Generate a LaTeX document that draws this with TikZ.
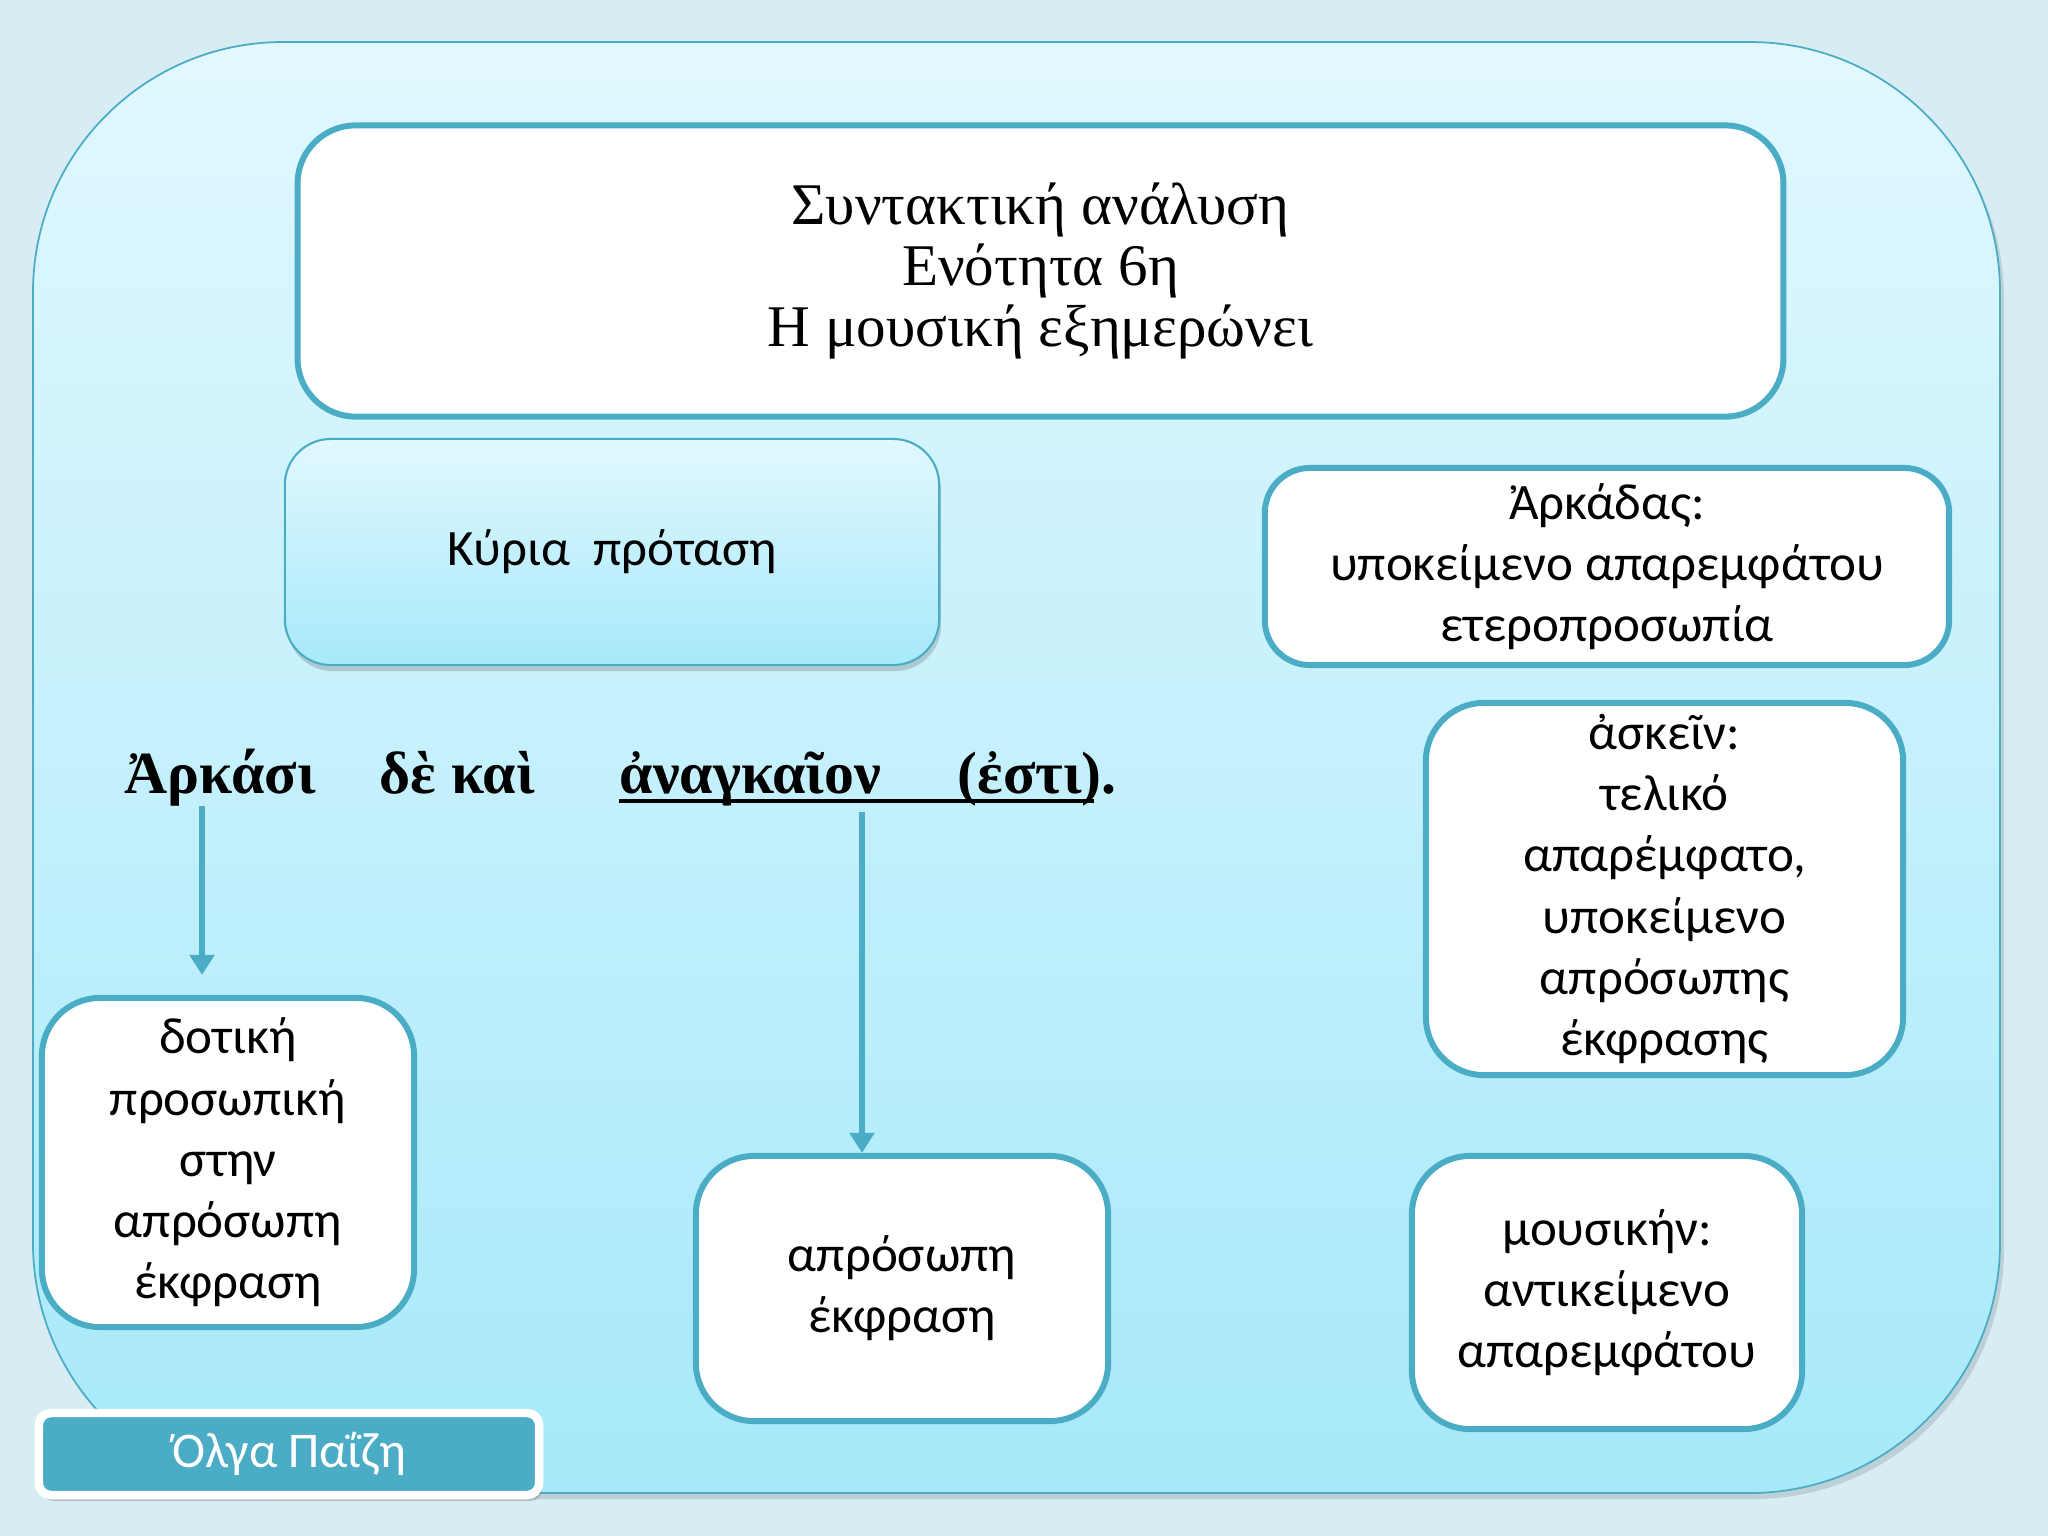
\documentclass[tikz,border=0pt]{standalone}
\usepackage{fontspec}
\setmainfont{Liberation Serif}
\newfontfamily\grsans{Carlito}
\usetikzlibrary{shadows,arrows.meta}

\definecolor{aqua}{HTML}{4BACC6}
\definecolor{slidebg}{HTML}{D8EDF3}
\definecolor{paneltop}{HTML}{E1F8FE}
\definecolor{panelbot}{HTML}{A7E9FA}

\tikzset{
  whitebox/.style={draw=aqua, line width=1.7pt, fill=white, rounded corners=0.58cm,
    align=center, inner sep=0pt, font=\grsans\fontsize{14.5}{17.4}\selectfont},
  mainbox/.style={draw=aqua, line width=0.6pt, top color=paneltop, bottom color=panelbot,
    rounded corners=0.46cm, align=center, inner sep=0pt,
    drop shadow={shadow xshift=0.02cm, shadow yshift=-0.06cm, opacity=0.35},
    font=\grsans\fontsize{14.5}{17.4}\selectfont},
  greekword/.style={anchor=base west, inner sep=0pt, font=\bfseries\fontsize{17}{20}\selectfont},
  arr/.style={draw=aqua, line width=1.5pt, -{Triangle[length=0.2cm,width=0.24cm]}}
}

\begin{document}
\begin{tikzpicture}[x=0.01cm, y=-0.01cm]
\useasboundingbox (0,0) rectangle (2048,1536);
\fill[slidebg] (0,0) rectangle (2048,1536);

% panel
\fill[black, opacity=0.12, rounded corners=2.5cm] (37,48) rectangle (2004,1499);
\shade[top color=paneltop, bottom color=panelbot, draw=aqua, line width=0.5pt,
  rounded corners=2.5cm] (33,42) rectangle (2000,1493);

% boxes
\node[whitebox, minimum width=14.85cm, minimum height=2.91cm,
  font=\fontsize{16.8}{17.4}\selectfont] (title) at (1040.5,271)
  {Συντακτική ανάλυση\\Ενότητα 6η\\Η μουσική εξημερώνει};

\node[mainbox, minimum width=6.54cm, minimum height=2.26cm] (kyria) at (612,552)
  {Κύρια\ \ πρόταση};

\node[whitebox, minimum width=6.84cm, minimum height=1.97cm, rounded corners=0.45cm]
  (arkadas) at (1607,566.5)
  {Ἀρκάδας:\\υποκείμενο απαρεμφάτου\\ετεροπροσωπία};

\node[whitebox, minimum width=4.77cm, minimum height=3.72cm] (askein) at (1664.5,889)
  {ἀσκεῖν:\\τελικό\\απαρέμφατο,\\υποκείμενο\\απρόσωπης\\έκφρασης};

\node[whitebox, minimum width=3.72cm, minimum height=3.29cm] (dotiki) at (228,1162.5)
  {δοτική\\προσωπική\\στην\\απρόσωπη\\έκφραση};

\node[whitebox, minimum width=4.12cm, minimum height=2.65cm] (aprosopi) at (902,1288.5)
  {απρόσωπη\\έκφραση};

\node[whitebox, minimum width=3.90cm, minimum height=2.73cm] (mousikin) at (1607,1292.5)
  {μουσικήν:\\αντικείμενο\\απαρεμφάτου};

% sentence
\node[greekword] (w1) at (124,793) {Ἀρκάσι};
\node[greekword] (w2) at (379,793) {δὲ καὶ};
\node[greekword] (w3) at (619,793) {ἀναγκαῖον};
\node[greekword] (w4) at (957,793) {(ἐστι).};
\draw[line width=0.9pt] (619,801) -- (1094,801);

% arrows
\coordinate (a1) at (202,806);
\coordinate (a2) at (862,812);
\draw[arr, shorten >=0.2cm] (a1) -- (a1 |- dotiki.north);
\draw[arr] (a2) -- (a2 |- aprosopi.north);

% footer
\node[draw=white, line width=2.4pt, fill=aqua, rounded corners=0.12cm,
  minimum width=5.0cm, minimum height=0.82cm, inner sep=0pt,
  drop shadow={shadow xshift=0.03cm, shadow yshift=-0.06cm, opacity=0.4},
  text=white, font=\grsans\fontsize{14.2}{18}\selectfont] (author) at (289,1454)
  {Όλγα Παΐζη};
\end{tikzpicture}
\end{document}
